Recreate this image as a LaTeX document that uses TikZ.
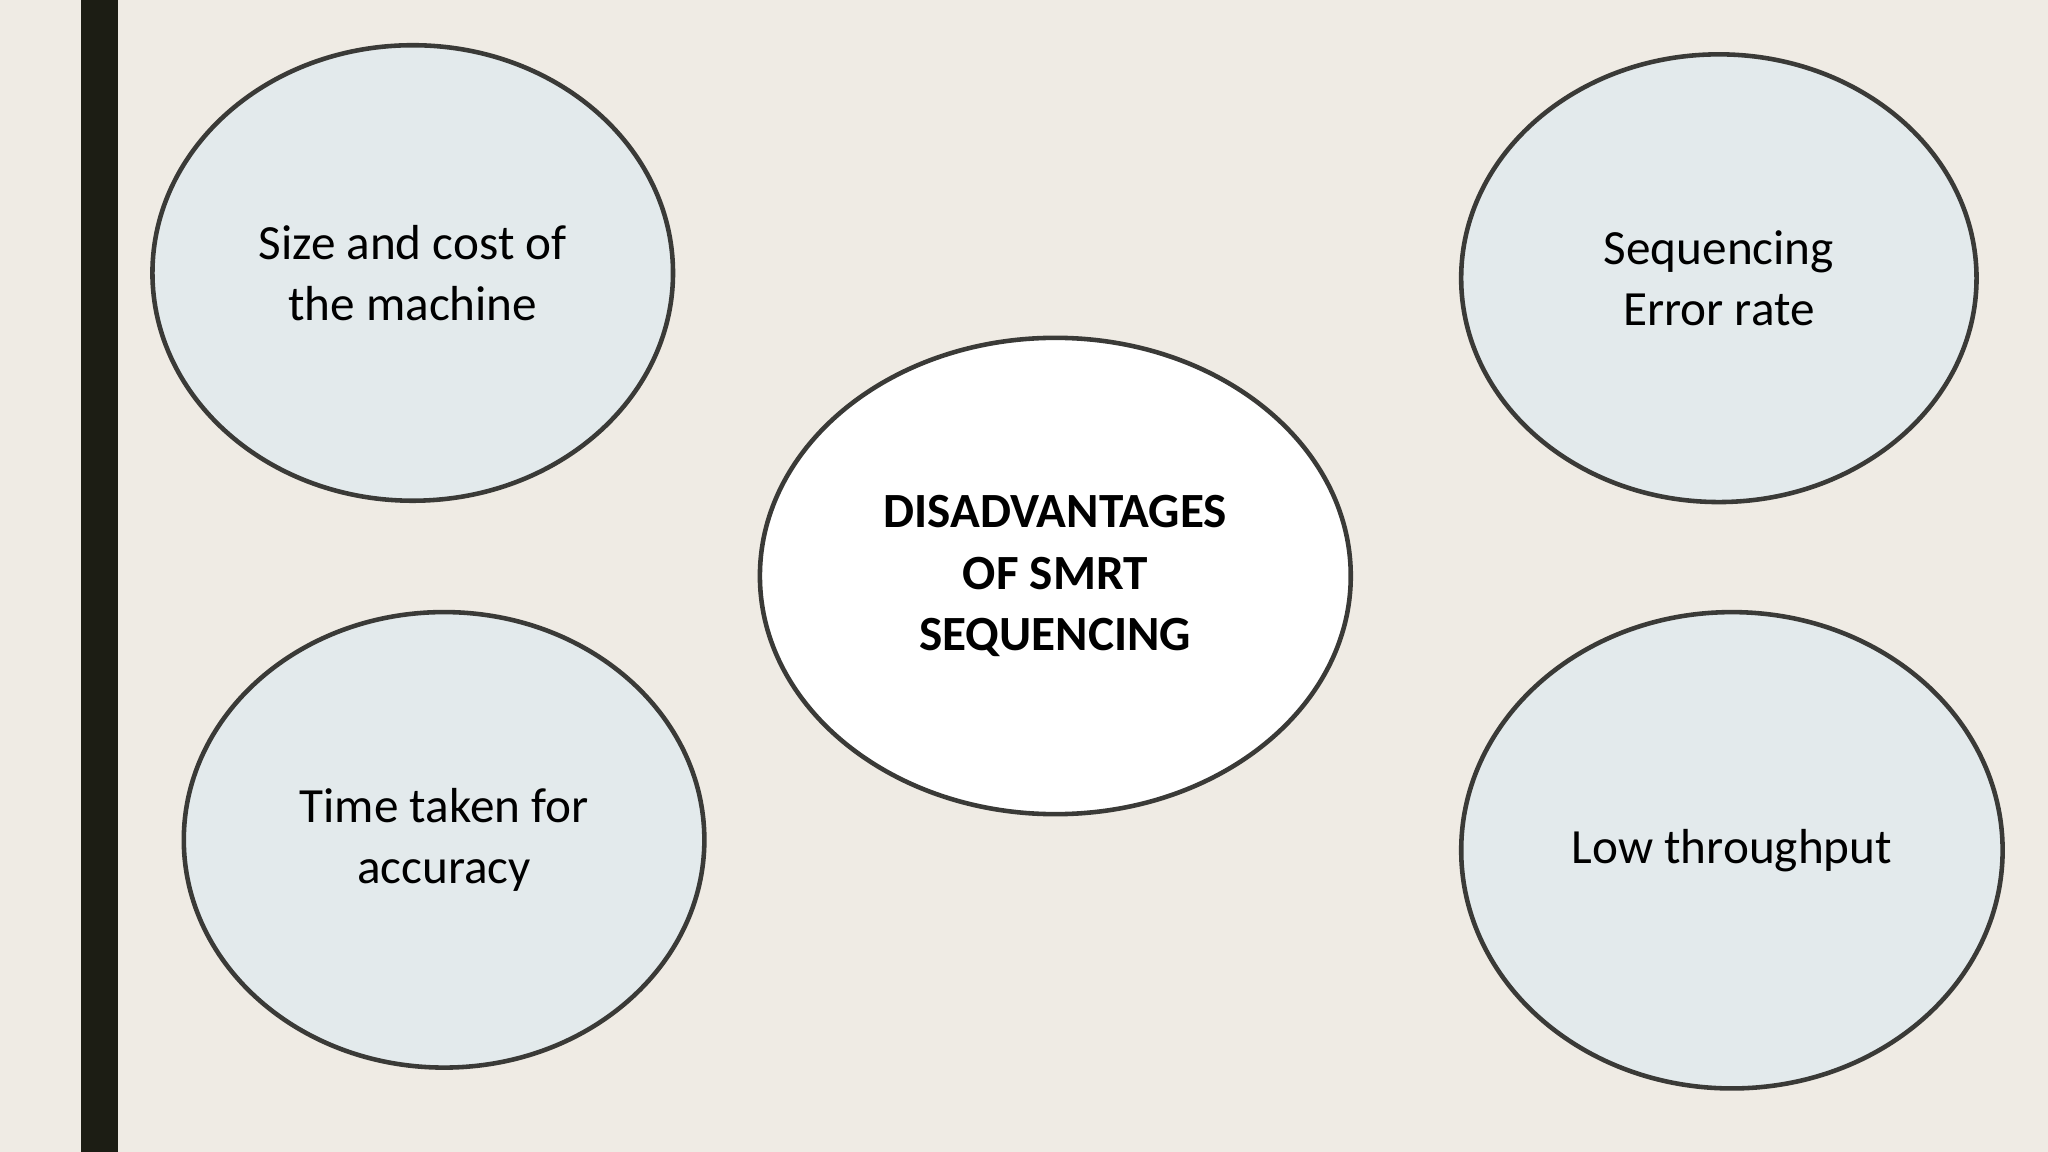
\documentclass[tikz,border=0pt]{standalone}
\usepackage{fontspec}
\setmainfont{Carlito}
\usetikzlibrary{shapes.geometric}
\definecolor{bg}{HTML}{EFEBE4}
\definecolor{bar}{HTML}{1C1D14}
\definecolor{efill}{HTML}{E3EAEC}
\definecolor{edge}{HTML}{3A3A37}
\tikzset{
  oval/.style={ellipse, draw=edge, line width=1.3pt, fill=efill, inner sep=0pt, align=center, font=\fontsize{14}{17.4}\selectfont},
  sz/.style 2 args={minimum width=#1*0.3703pt, minimum height=#2*0.3703pt},
}
\begin{document}
\begin{tikzpicture}[x=0.01306cm,y=-0.01306cm]
\fill[bg] (0,0) rectangle (1568,882);
\useasboundingbox (0,0) rectangle (1568,882);
\fill[bar] (62,0) rectangle (90,882);
\node[oval, sz={400}{350}] (tl) at (316,209) {Size and cost of\\the machine};
\node[oval, sz={396}{344}] (tr) at (1316,213) {Sequencing\\ Error rate};
\node[oval, fill=white, sz={454}{366}, font=\fontsize{14}{17.4}\selectfont\bfseries] (c) at (808,441) {DISADVANTAGES\\OF SMRT\\SEQUENCING};
\node[oval, sz={400}{350}] (bl) at (340,643) {Time taken for\\accuracy};
\node[oval, sz={416}{366}] (br) at (1326,651) {Low throughput};
\end{tikzpicture}
\end{document}
